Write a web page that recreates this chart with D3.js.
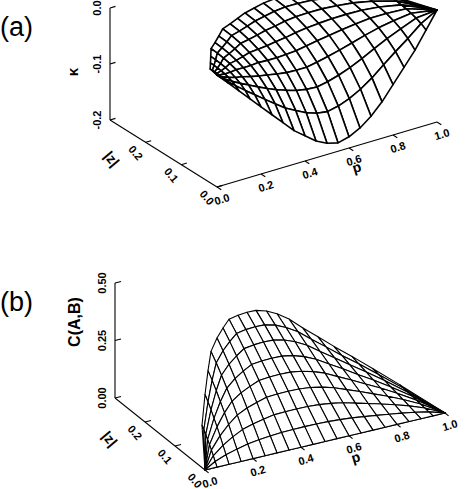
<!DOCTYPE html>
<html><head><meta charset="utf-8">
<script src="https://cdn.jsdelivr.net/npm/d3@7"></script>
<style>body{margin:0;background:#fff}svg{display:block}text{font-family:"Liberation Sans",Arial,sans-serif}</style>
</head><body>
<svg id="c" width="474" height="489"></svg>
<script>
// grid coordinates
const pVals = [0,.05,.1,.15,.2,.25,.3,.35,.4,.45,.5,.55,.6,.65,.7,.75,.8,.85,.9,.95,1];
const tVals = [0,.125,.25,.375,.5,.625,.75,.875,1]; // fraction of |z| range at each p
const zMax  = [0,.05,.08,.11,.14,.16,.18,.2,.21,.22,.23,.235,.24,.24,.235,.225,.21,.19,.16,.11,0];
// panel (a): kappa at |z|=0 and at |z|=zMax, blend weight across t
const kFront = [0,-.02,-.04,-.06,-.08,-.1,-.12,-.14,-.155,-.17,-.18,-.185,-.18,-.17,-.155,-.135,-.11,-.085,-.06,-.03,0];
const kBack  = [0,-.015,-.022,-.028,-.032,-.035,-.037,-.038,-.039,-.039,-.039,-.038,-.037,-.035,-.033,-.03,-.027,-.023,-.018,-.01,0];
const kBlend = [0,.3,.52,.68,.8,.88,.94,.98,1];
// panel (b): concurrence on the |z|=zMax edge and profile across t
const cEdge  = [0,.13,.22,.28,.32,.345,.355,.36,.355,.345,.33,.31,.28,.245,.2,.16,.12,.085,.05,.02,0];
const cShape = [0,.14,.28,.42,.55,.67,.79,.9,1];
// ticks
const pTicks = [0,.2,.4,.6,.8,1], zTicks=[0,.1,.2];
const kTicks = [-.2,-.1,0], cTicks=[0,.25,.5];

const svg = d3.select("#c");
svg.append("text").attr("x",0).attr("y",36).attr("font-size",27).text("(a)");
svg.append("text").attr("x",0).attr("y",311).attr("font-size",27).text("(b)");

function panel(o){
  const fp=d3.scaleLinear().domain([0,1]).range([0,1]);
  const fz=d3.scaleLinear().domain([0,.3]).range([0,1]);
  const fv=d3.scaleLinear().domain(o.vDom).range([0,1]);
  const P=(p,z,v)=>[o.O[0]+fp(p)*o.pv[0]+fz(z)*o.zv[0]+fv(v)*o.vv[0],
                    o.O[1]+fp(p)*o.pv[1]+fz(z)*o.zv[1]+fv(v)*o.vv[1]];
  const g=svg.append("g");
  const ax="#000";
  const line=(a,b)=>g.append("line").attr("x1",a[0]).attr("y1",a[1]).attr("x2",b[0]).attr("y2",b[1]).attr("stroke",ax).attr("stroke-width",1.1);
  const v0=o.vDom[0], v1=o.vDom[1];
  line(P(0,0,v0),P(1,0,v0)); line(P(0,0,v0),P(0,.3,v0)); line(P(0,.3,v0),P(0,.3,v1));
  const lab=(x,y,t,rot,sz,anchor)=>g.append("text").attr("transform",`translate(${x},${y}) rotate(${rot})`)
     .attr("font-size",sz||11).attr("font-weight","bold").attr("text-anchor",anchor||"middle").text(t);
  pTicks.forEach(p=>{const a=P(p,0,v0),b=P(p,-.012,v0);line(a,b);
     lab(a[0]+6,a[1]+16,p.toFixed(1),-17);});
  zTicks.forEach(z=>{const a=P(0,z,v0),b=P(.025,z,v0);line(a,b);
     lab(a[0]-13,a[1]+13,z.toFixed(1),50);});
  o.vTicks.forEach(v=>{const a=P(0,.3,v),b=P(.025,.3,v);line(a,b);
     lab(a[0]-9,a[1],o.fmt(v),-90);});
  lab(o.pLab[0],o.pLab[1],"p",-17,14);
  lab(o.zLab[0],o.zLab[1],"|z|",50,14);
  lab(o.vLab[0],o.vLab[1],o.vName,-90,o.vSize);
  // surface quads
  const quads=[];
  for(let i=0;i<pVals.length-1;i++)for(let j=0;j<tVals.length-1;j++){
    const c=[[i,j],[i+1,j],[i+1,j+1],[i,j+1]].map(([a,b])=>{
      const z=tVals[b]*zMax[a]; return {s:P(pVals[a],z,o.val(a,b)),d:pVals[a]*65+fz(z)*67};});
    const pts=c.map(d=>d.s);
    let ar=0;for(let k=0;k<4;k++){const a=pts[k],b=pts[(k+1)%4];ar+=a[0]*b[1]-b[0]*a[1];}
    quads.push({pts,d:d3.mean(c,d=>d.d),top:ar<=0});
  }
  quads.sort((a,b)=>b.d-a.d);
  g.selectAll("path.q").data(quads).join("path")
   .attr("d",q=>"M"+q.pts.join("L")+"Z")
   .attr("fill",q=>q.top?"#fff":"#c8c8c8")
   .attr("stroke",q=>q.top?"#000":"#c8c8c8").attr("stroke-width",o.sw).attr("stroke-linejoin","round");
}
panel({O:[217,187],pv:[220,-65],zv:[-107,-67],vv:[0,-112],vDom:[-.2,0],vTicks:kTicks,
  fmt:v=>v.toFixed(1),val:(a,b)=>kFront[a]*(1-kBlend[b])+kBack[a]*kBlend[b],
  pLab:[358,172],zLab:[108,162],vLab:[78,72],vName:"κ",vSize:15,sw:1.6});
panel({O:[205,470],pv:[240,-57],zv:[-90,-72],vv:[0,-115],vDom:[0,.5],vTicks:cTicks,
  fmt:v=>v.toFixed(2),val:(a,b)=>cEdge[a]*cShape[b],
  pLab:[357,462],zLab:[106,442],vLab:[80,322],vName:"C(A,B)",vSize:16,sw:1.1});
</script>
</body></html>
